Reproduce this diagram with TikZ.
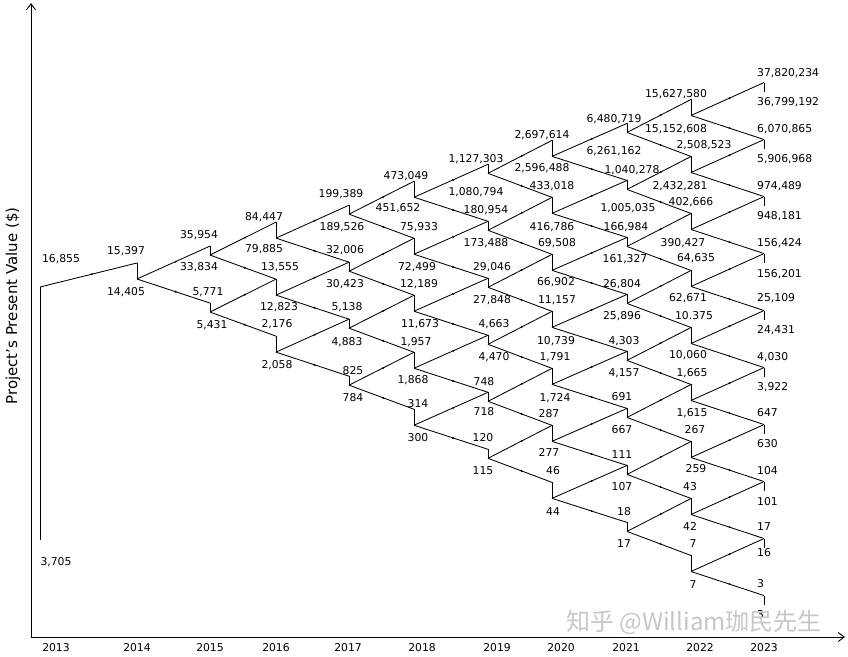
\documentclass[tikz,border=0pt]{standalone}
\usepackage{fontspec}
\setmainfont{DejaVu Sans}
\newfontfamily\cjkfont{Noto Sans CJK SC}
\usetikzlibrary{arrows.meta,decorations.markings}
\newcommand\thsep{,}
\begin{document}
\begin{tikzpicture}[x=1pt,y=-1pt,
  lattice/.style={line width=0.85pt,line cap=butt},
  midarrow/.style={postaction={decorate},decoration={markings,mark=at position 0.55 with {\arrow{Latex[length=2.2pt,width=2.4pt]}}}},
  axis/.style={line width=0.9pt,-{Straight Barb[length=6pt,width=9pt,line width=0.9pt]}},
  val/.style={inner sep=0pt,text height=7.9pt,text depth=0pt,font=\fontsize{10.8}{12}\selectfont},
  endval/.style={val,anchor=west},
  year/.style={val},
  ylab/.style={inner sep=0pt,rotate=90,font=\fontsize{15}{17}\selectfont},
  wmark/.style={inner sep=0pt,text=black!22,font=\cjkfont\fontsize{24}{26}\selectfont}]
\useasboundingbox (0,0) rectangle (848,656);
\fill[white] (0,0) rectangle (848,656);
% axes
\coordinate (O) at (31,637);
\coordinate (Ytop) at (31,3);
\coordinate (Xend) at (845,637);
\draw[axis] (O) -- (Ytop);
\draw[axis] (O) -- (Xend);
\node[ylab] (ylabel) at (13,306) {Project’s Present Value (\$)};
% initial node
\coordinate (S0) at (40,287);
\coordinate (S1) at (40,540);
\draw[lattice] (S1) -- (S0);
% lattice nodes
\foreach \k/\x in {1/137,2/210,3/276,4/349,5/414,6/488,7/552,8/627,9/691,10/764}{
  \pgfmathsetmacro\h{isodd(\k)?8:4.5}
  \pgfmathtruncatemacro\jmax{\k-1}
  \foreach \j in {0,...,\jmax}{
    \pgfmathsetmacro\yc{271-20.44*(\k-1)+57*\j}
    \coordinate (T\k-\j) at (\x,\yc-\h);
    \coordinate (B\k-\j) at (\x,\yc+\h);
    \draw[lattice] (T\k-\j) -- (B\k-\j);
  }
}
\draw[lattice,midarrow] (S0) -- (T1-0);
\foreach \k in {1,...,9}{
  \pgfmathtruncatemacro\kn{\k+1}
  \pgfmathtruncatemacro\jm{\k-1}
  \foreach \j in {0,...,\jm}{
    \pgfmathtruncatemacro\jn{\j+1}
    \draw[lattice,midarrow] (B\k-\j) -- (T\kn-\j);
    \draw[lattice,midarrow] (B\k-\j) -- (T\kn-\jn);
  }
}
% value labels
\foreach \t/\x/\y [count=\i] in {
16\thsep855/61/259, 3\thsep705/56/562,
15\thsep397/126/251, 14\thsep405/126/292,
35\thsep954/199/235, 33\thsep834/199/267, 5\thsep771/208/292, 5\thsep431/212/325,
84\thsep447/264/217, 79\thsep885/264/249, 13\thsep555/280/267, 12\thsep823/279/307, 2\thsep176/277/324, 2\thsep058/277/365,
199\thsep389/341/194, 189\thsep526/342/227, 32\thsep006/345/250, 30\thsep423/345/284, 5\thsep138/347/307, 4\thsep883/347/342, 825/353/371, 784/353/398,
473\thsep049/406/176, 451\thsep652/398/208, 75\thsep933/419/227, 72\thsep499/417/267, 12\thsep189/419/284, 11\thsep673/420/324, 1\thsep957/416/342, 1\thsep868/413/380, 314/418/404, 300/418/438,
1\thsep127\thsep303/476/159, 1\thsep080\thsep794/476/192, 180\thsep954/486/210, 173\thsep488/486/243, 29\thsep046/492/267, 27\thsep848/492/300, 4\thsep663/494/324, 4\thsep470/494/357, 748/484/382, 718/484/412, 120/483/438, 115/483/471,
2\thsep697\thsep614/542/135, 2\thsep596\thsep488/542/168, 433\thsep018/552/186, 416\thsep786/552/227, 69\thsep508/557/243, 66\thsep902/556/282, 11\thsep157/557/300, 10\thsep739/556/341, 1\thsep791/555/357, 1\thsep724/555/398, 287/549/414, 277/549/453, 46/553/471, 44/553/512,
6\thsep480\thsep719/614/119, 6\thsep261\thsep162/614/151, 1\thsep040\thsep278/632/170, 1\thsep005\thsep035/628/208, 166\thsep984/626/227, 161\thsep327/625/259, 26\thsep804/622/284, 25\thsep896/622/316, 4\thsep303/624/341, 4\thsep157/624/373, 691/622/397, 667/622/430, 111/622/455, 107/622/487, 18/624/512, 17/624/544,
15\thsep627\thsep580/676/94, 15\thsep152\thsep608/676/129, 2\thsep508\thsep523/704/145, 2\thsep432\thsep281/680/186, 402\thsep666/691/202, 390\thsep427/683/243, 64\thsep635/696/258, 62\thsep671/688/298, 10.375/694/316, 10\thsep060/688/355, 1\thsep665/692/373, 1\thsep615/692/413, 267/695/430, 259/696/469, 43/690/487, 42/690/527, 7/693/544, 7/693/585}
  \node[val] (L\i) at (\x,\y) {\t};
\foreach \t/\y [count=\i] in {
37\thsep820\thsep234/73, 36\thsep799\thsep192/102, 6\thsep070\thsep865/129, 5\thsep906\thsep968/159, 974\thsep489/186, 948\thsep181/216, 156\thsep424/243, 156\thsep201/274, 25\thsep109/298, 24\thsep431/330, 4\thsep030/357, 3\thsep922/387, 647/413, 630/444, 104/471, 101/502, 17/527, 16/553, 3/584, 3/615}
  \node[endval] (E\i) at (757,\y) {\t};
% years
\foreach \t/\x in {2013/56,2014/137,2015/210,2016/276,2017/348,2018/422,2019/497,2020/561,2021/626,2022/700,2023/764}
  \node[year] (Y\t) at (\x,648) {\t};
% watermark
\node[wmark] (wm) at (694,622) {知乎 @William珈民先生};
\end{tikzpicture}
\end{document}
